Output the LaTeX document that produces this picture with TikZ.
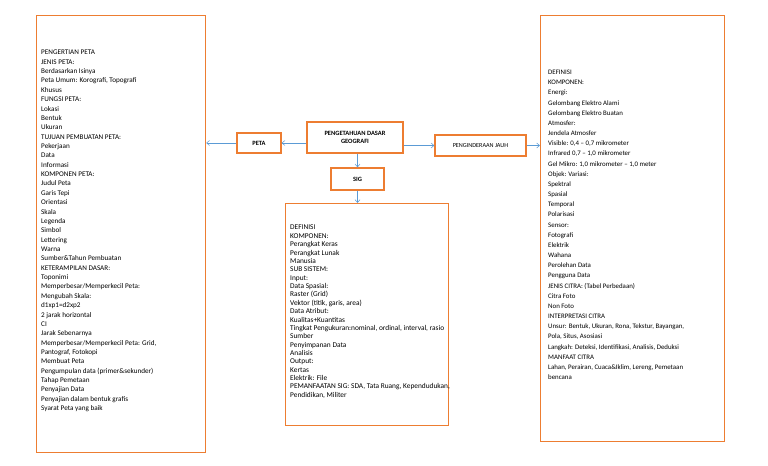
\documentclass[tikz,border=0pt]{standalone}
\usepackage{fontspec}
\setmainfont{Carlito}
\usetikzlibrary{arrows.meta}
\definecolor{orng}{HTML}{ED7D31}
\definecolor{blu}{HTML}{5B9BD5}
\tikzset{
  box/.style={draw=orng, line width=1.2pt, fill=white},
  lbl/.style={box, font=\fontsize{6.5}{8}\selectfont\bfseries, align=center, inner sep=0pt},
  txt/.style={anchor=north west, align=left, inner sep=0pt},
  arr/.style={draw=blu, line width=0.5pt, -{Straight Barb[length=3pt,width=5pt]}}
}
\begin{document}
\begin{tikzpicture}[x=1bp,y=-1bp]
\useasboundingbox[fill=white] (0,0) rectangle (768,466);
% left box
\node[box, minimum width=169bp, minimum height=437bp, anchor=north west] (L) at (36,15) {};
\node[txt, font=\fontsize{7.2}{9.4}\selectfont] (Lt) at (41,50) {PENGERTIAN PETA\\JENIS PETA:\\Berdasarkan Isinya\\Peta Umum: Korografi, Topografi\\Khusus\\FUNGSI PETA:\\Lokasi\\Bentuk\\Ukuran\\TUJUAN PEMBUATAN PETA:\\Pekerjaan\\Data\\Informasi\\KOMPONEN PETA:\\Judul Peta\\Garis Tepi\\Orientasi\\Skala\\Legenda\\Simbol\\Lettering\\Warna\\Sumber\&Tahun Pembuatan\\KETERAMPILAN DASAR:\\Toponimi\\Memperbesar/Memperkecil Peta:\\Mengubah Skala:\\d1xp1=d2xp2\\2 jarak horizontal\\CI\\Jarak Sebenarnya\\Memperbesar/Memperkecil Peta: Grid,\\Pantograf, Fotokopi\\Membuat Peta\\Pengumpulan data (primer\&sekunder)\\Tahap Pemetaan\\Penyajian Data\\Penyajian dalam bentuk grafis\\Syarat Peta yang baik};
% right box
\node[box, minimum width=184bp, minimum height=426bp, anchor=north west] (R) at (540,15) {};
\node[txt, font=\fontsize{6.9}{10.2}\selectfont] (Rt) at (548,70) {DEFINISI\\KOMPONEN:\\Energi:\\Gelombang Elektro Alami\\Gelombang Elektro Buatan\\Atmosfer:\\Jendela Atmosfer\\Visible: 0,4 -- 0,7 mikrometer\\Infrared 0,7 -- 1,0 mikrometer\\Gel Mikro: 1,0 mikrometer -- 1,0 meter\\Objek: Variasi:\\Spektral\\Spasial\\Temporal\\Polarisasi\\Sensor:\\Fotografi\\Elektrik\\Wahana\\Perolehan Data\\Pengguna Data\\JENIS CITRA: (Tabel Perbedaan)\\Citra Foto\\Non Foto\\INTERPRETASI CITRA\\Unsur: Bentuk, Ukuran, Rona, Tekstur, Bayangan,\\Pola, Situs, Asosiasi\\Langkah: Deteksi, Identifikasi, Analisis, Deduksi\\MANFAAT CITRA\\Lahan, Perairan, Cuaca\&Iklim, Lereng, Pemetaan\\bencana};
% center boxes
\node[lbl, minimum width=96bp, minimum height=31bp] (P) at (355,137.5) {PENGETAHUAN DASAR\\GEOGRAFI};
\node[lbl, minimum width=44bp, minimum height=20bp] (PT) at (259,143) {PETA};
\node[lbl, minimum width=91bp, minimum height=21bp, font=\fontsize{6.2}{8}\selectfont] (PJ) at (480.5,145.5) {PENGINDERAAN JAUH};
\node[lbl, minimum width=53bp, minimum height=22bp] (S) at (357.5,179) {SIG};
\node[box, minimum width=163bp, minimum height=222bp, anchor=north west] (SB) at (285,203) {};
\node[txt, font=\fontsize{7.4}{8.4}\selectfont] (St) at (290,225) {DEFINISI\\KOMPONEN:\\Perangkat Keras\\Perangkat Lunak\\Manusia\\SUB SISTEM:\\Input:\\Data Spasial:\\Raster (Grid)\\Vektor (titik, garis, area)\\Data Atribut:\\Kualitas+Kuantitas\\Tingkat Pengukuran:nominal, ordinal, interval, rasio\\Sumber\\Penyimpanan Data\\Analisis\\Output:\\Kertas\\Elektrik: File\\PEMANFAATAN SIG: SDA, Tata Ruang, Kependudukan,\\Pendidikan, Militer};
% arrows
\draw[arr] (P.west |- PT.east) -- (PT.east);
\draw[arr] (PT.west) -- (PT.west -| L.east);
\draw[arr] (P.east |- PJ.west) -- (PJ.west);
\draw[arr] (PJ.east) -- (PJ.east -| R.west);
\draw[arr] (S.north |- P.south) -- (S.north);
\draw[arr] (S.south) -- (S.south |- SB.north);
\end{tikzpicture}
\end{document}
